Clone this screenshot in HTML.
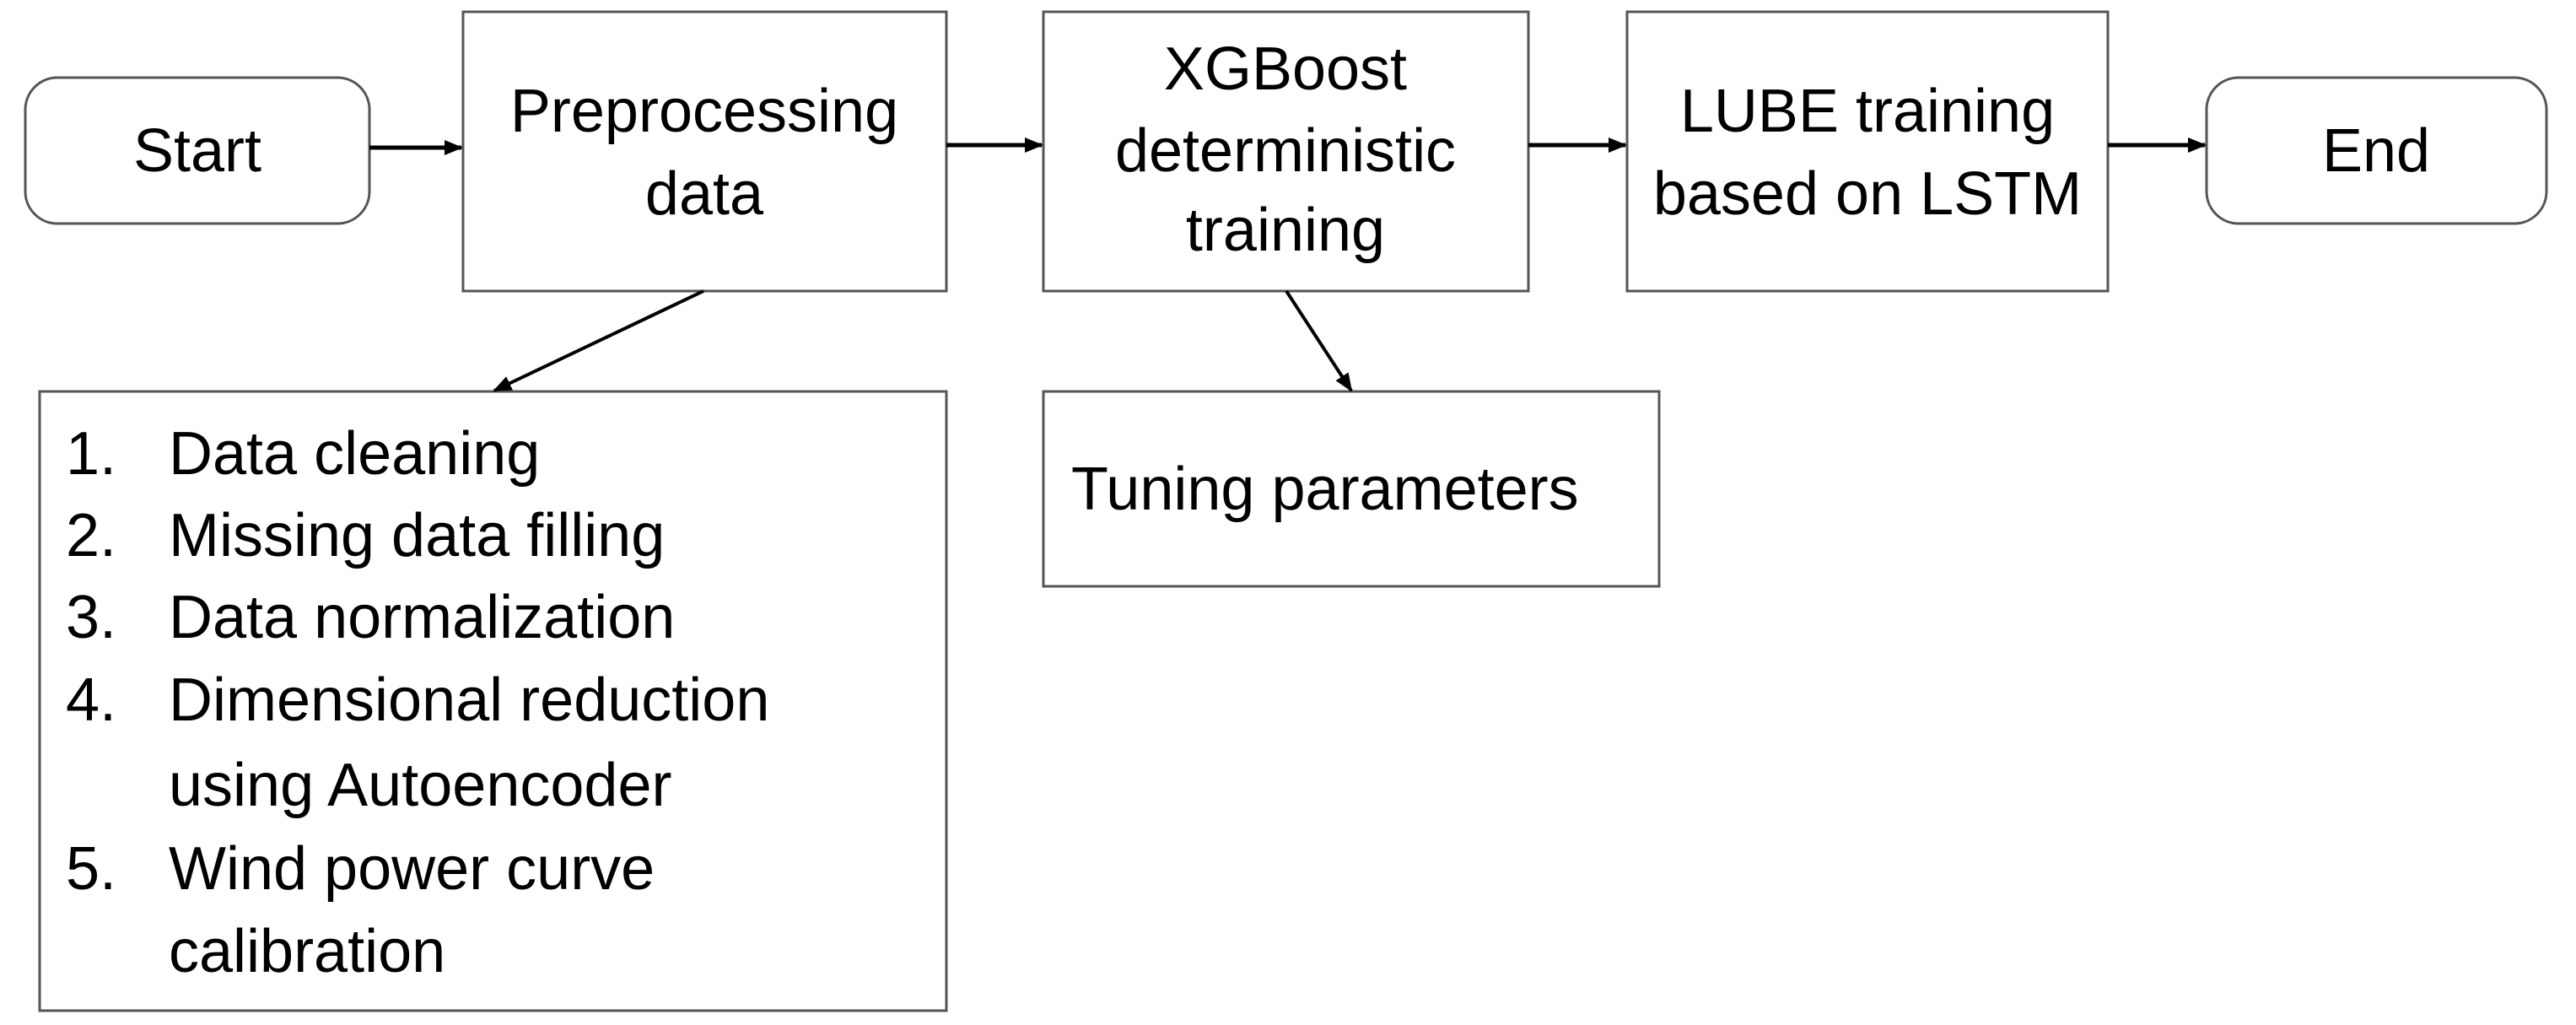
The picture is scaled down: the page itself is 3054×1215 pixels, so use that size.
<!DOCTYPE html>
<html><head><meta charset="utf-8"><style>
html,body{margin:0;padding:0;background:#fff;}
svg{display:block;}
text{font-family:"Liberation Sans",Arial,sans-serif;font-size:72px;fill:#000;}
</style></head><body>
<svg width="3054" height="1215" viewBox="0 0 3054 1215" xmlns="http://www.w3.org/2000/svg">
<defs>
<marker id="b" markerWidth="22" markerHeight="22" refX="20" refY="11" orient="auto" markerUnits="userSpaceOnUse" viewBox="0 0 22 22"><path d="M0,2 L22,11 L0,20 z" fill="#000"/></marker></defs>
<g fill="#fff" stroke="#555" stroke-width="3">
<rect x="30" y="92" width="408" height="173" rx="38"/>
<rect x="549" y="14" width="573" height="331"/>
<rect x="1237" y="14" width="575" height="331"/>
<rect x="1929" y="14" width="570" height="331"/>
<rect x="2616" y="92" width="403" height="173" rx="38"/>
<rect x="47" y="464" width="1075" height="734"/>
<rect x="1237" y="464" width="730" height="231"/>
</g>
<g stroke="#000" stroke-width="5" marker-end="url(#b)">
<line x1="438" y1="175" x2="547" y2="175"/>
<line x1="1122" y1="172" x2="1235" y2="172"/>
<line x1="1812" y1="172" x2="1927" y2="172"/>
<line x1="2499" y1="172" x2="2614" y2="172"/>
</g>
<g stroke="#000" stroke-width="4" marker-end="url(#b)">
<line x1="834" y1="345" x2="586" y2="463"/>
<line x1="1525" y1="345" x2="1602" y2="463"/>
</g>
<g text-anchor="middle" dominant-baseline="central">
<text x="234" y="179">Start</text>
<text x="835" y="132">Preprocessing</text>
<text x="835" y="230">data</text>
<text x="1524" y="82">XGBoost</text>
<text x="1524" y="179">deterministic</text>
<text x="1524" y="273">training</text>
<text x="2214" y="132">LUBE training</text>
<text x="2214" y="230">based on LSTM</text>
<text x="2817" y="179">End</text>
</g>
<g dominant-baseline="central">
<text x="1270" y="580">Tuning parameters</text>
<text x="78" y="538">1.</text><text x="200" y="538">Data cleaning</text>
<text x="78" y="635">2.</text><text x="200" y="635">Missing data filling</text>
<text x="78" y="732">3.</text><text x="200" y="732">Data normalization</text>
<text x="78" y="830">4.</text><text x="200" y="830">Dimensional reduction</text>
<text x="200" y="931">using Autoencoder</text>
<text x="78" y="1030">5.</text><text x="200" y="1030">Wind power curve</text>
<text x="200" y="1128">calibration</text>
</g>
</svg>
</body></html>
